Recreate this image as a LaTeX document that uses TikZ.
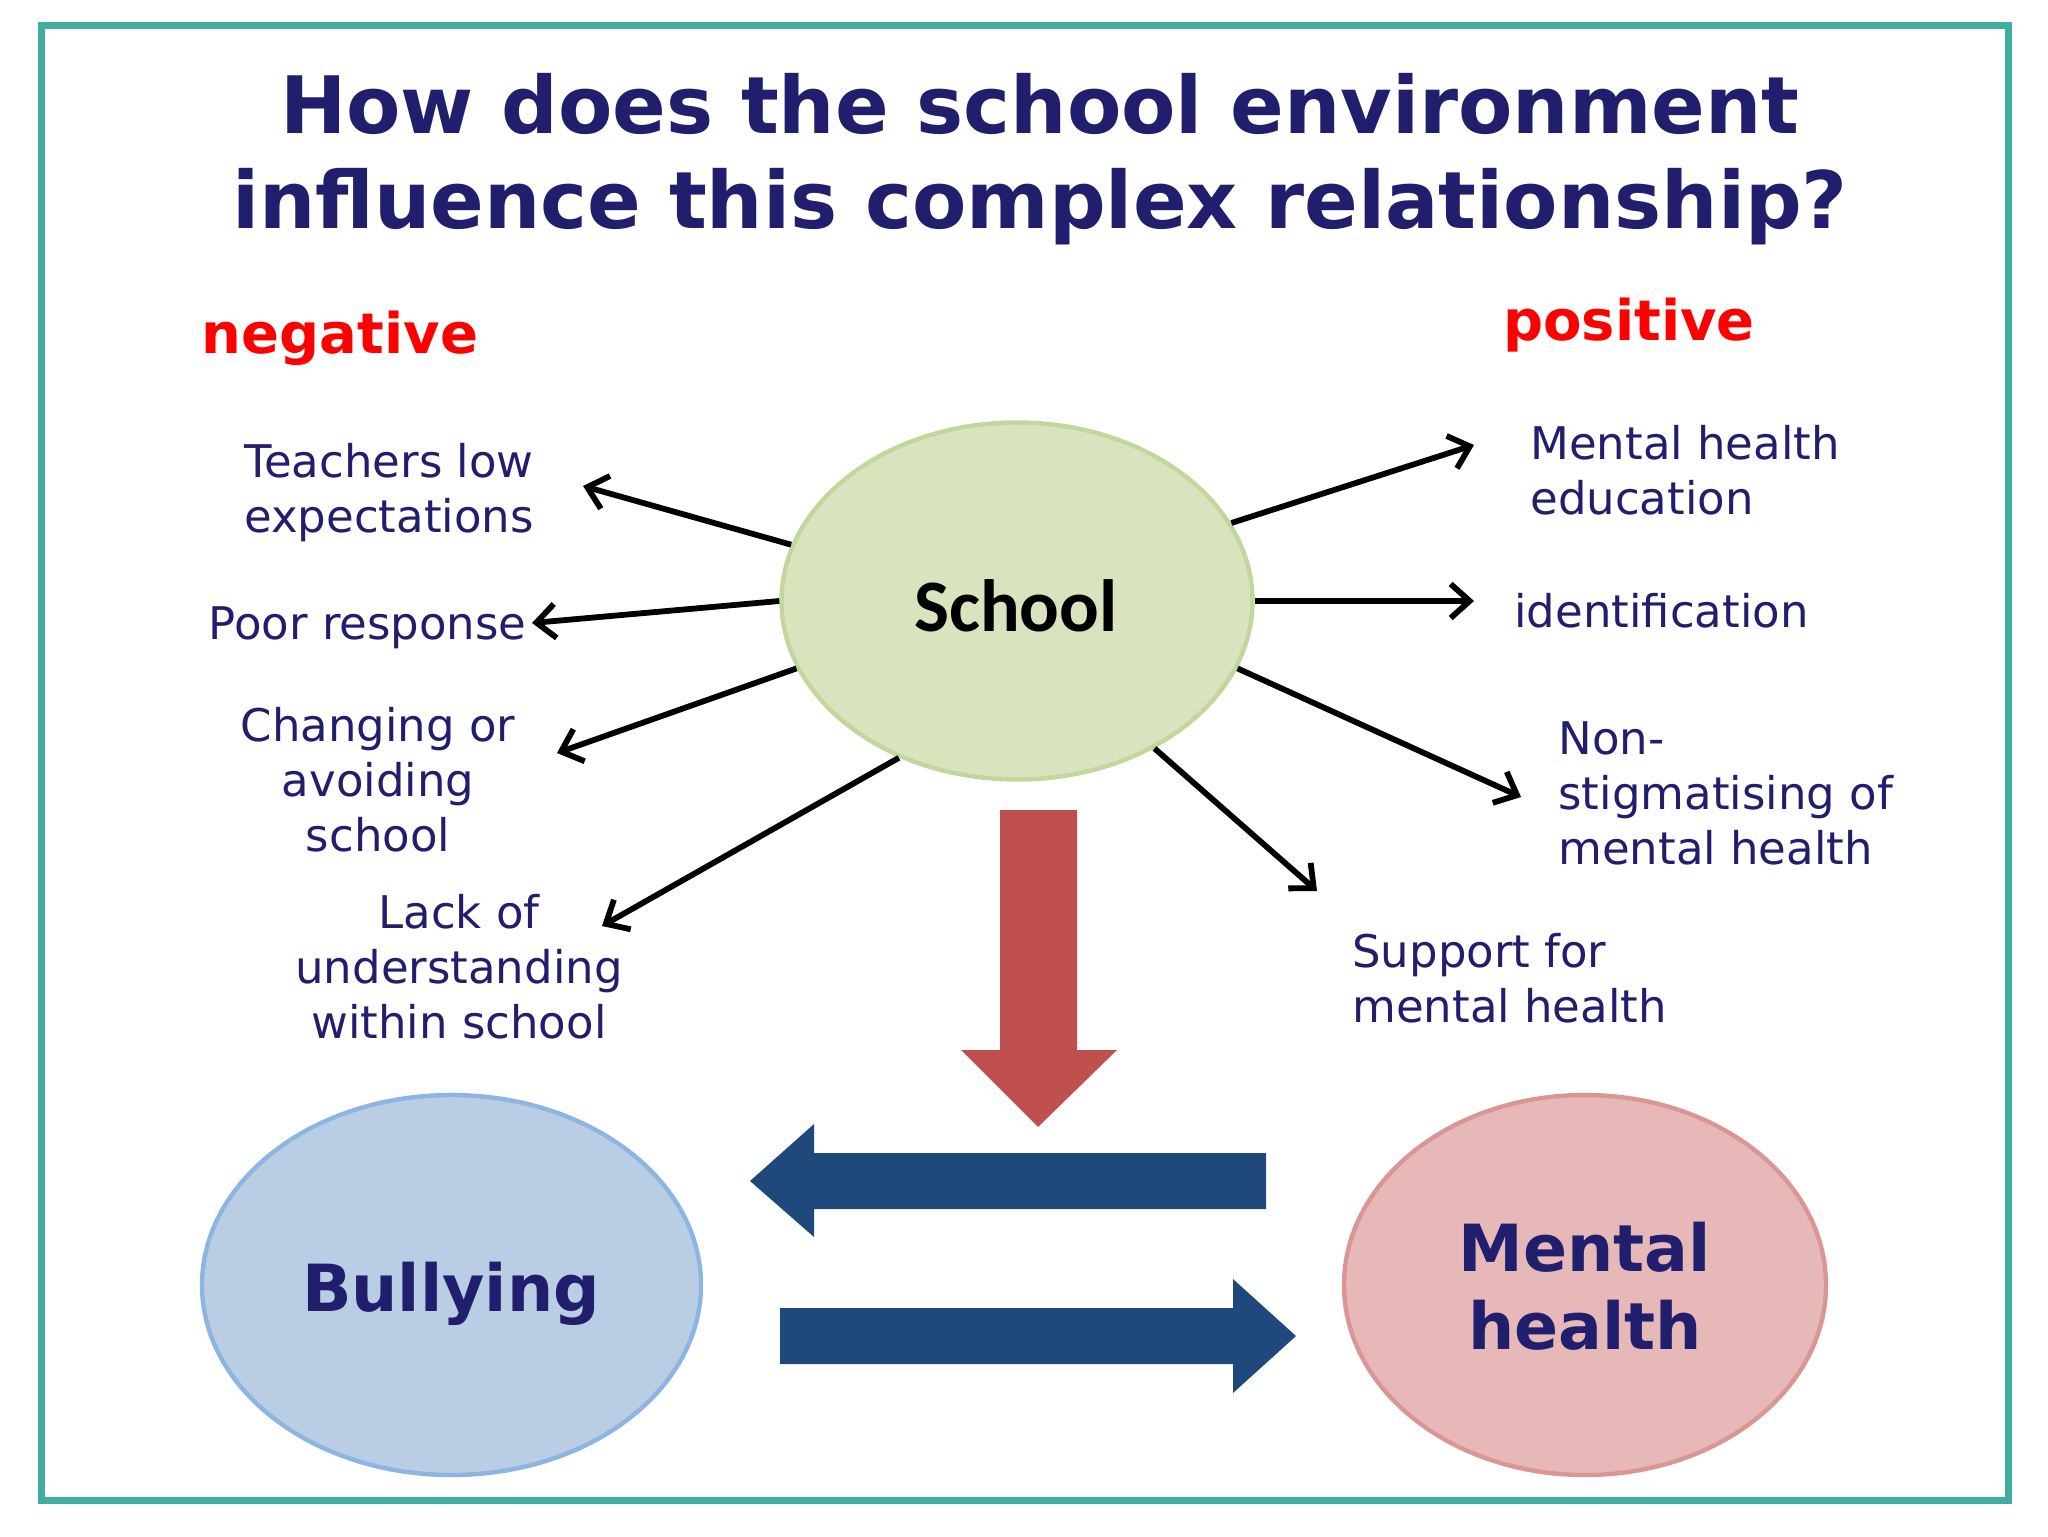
\documentclass[tikz,border=0pt]{standalone}
\usepackage{fontspec}
\setmainfont{DejaVu Sans}
\newfontfamily\carl{Carlito}
\usetikzlibrary{arrows.meta,shapes.geometric}
\definecolor{navy}{RGB}{33,30,110}
\definecolor{frameteal}{RGB}{64,173,158}
\definecolor{gfill}{RGB}{215,228,189}
\definecolor{gline}{RGB}{195,214,155}
\definecolor{bfill}{RGB}{185,205,229}
\definecolor{bline}{RGB}{142,180,226}
\definecolor{pfill}{RGB}{230,185,184}
\definecolor{pline}{RGB}{217,150,148}
\definecolor{redarrow}{RGB}{192,80,77}
\definecolor{bluearrow}{RGB}{31,73,125}
\begin{document}
\begin{tikzpicture}[x=0.5pt,y=-0.5pt,
  bubble/.style={ellipse, line width=2.2pt, inner sep=0pt},
  body/.style={text=navy, inner sep=0pt, font=\fontsize{22.5}{27.5}\selectfont},
  big/.style={text=navy, inner sep=0pt, font=\fontsize{32.5}{39}\selectfont\bfseries, align=center},
  conn/.style={line width=2.9pt, -{Straight Barb[length=9.5pt,width=17pt]}}]
\useasboundingbox (0,0) rectangle (2048,1536);
\draw[frameteal, line width=3.5pt] (41,26) rectangle (2008,1500);

% title
\node[text=navy, inner sep=0pt, anchor=base, align=center,
  font=\fontsize{39.6}{47.5}\selectfont\bfseries] (title) at (1040,228)
  {How does the school environment\\influence this complex relationship?};
\node[text=red, inner sep=0pt, anchor=base, font=\fontsize{28}{34}\selectfont\bfseries] (neg) at (340,353) {negative};
\node[text=red, inner sep=0pt, anchor=base, font=\fontsize{28}{34}\selectfont\bfseries] (pos) at (1629,340) {positive};

% ellipses
\node[bubble, draw=gline, fill=gfill, minimum width=235.5pt, minimum height=178.5pt] (school) at (1017,601) {};
\node[inner sep=0pt, anchor=base, font=\carl\fontsize{37}{44}\selectfont\bfseries] (schooltxt) at (1016,631) {School};
\node[bubble, draw=bline, fill=bfill, minimum width=249.5pt, minimum height=190pt] (bully) at (451.5,1285) {};
\node[bubble, draw=pline, fill=pfill, minimum width=241pt, minimum height=190pt] (mh) at (1585,1285) {};
\node[big, anchor=base] (bullytxt) at (451,1311) {Bullying};
\node[big, anchor=base] (mhtxt) at (1585,1349) {Mental\\health};

% block arrows
\fill[redarrow] (1000,810) -- (1077,810) -- (1077,1050) -- (1117,1050) -- (1038,1127) -- (961,1050) -- (1000,1050) -- cycle;
\fill[bluearrow] (750,1181) -- (814,1124) -- (814,1153) -- (1266,1153) -- (1266,1209) -- (814,1209) -- (814,1237) -- cycle;
\fill[bluearrow] (1296,1336) -- (1233,1279) -- (1233,1308) -- (780,1308) -- (780,1364) -- (1233,1364) -- (1233,1393) -- cycle;

% negative labels (base = last line)
\node[body, anchor=base, align=center] (teach) at (389,532) {Teachers low\\expectations};
\node[body, anchor=base east] (poor) at (527,639) {Poor response};
\node[body, anchor=base, align=center] (chg) at (378,851) {Changing or\\avoiding\\school};
\node[body, anchor=base, align=center] (lack) at (459,1038) {Lack of\\understanding\\within school};
% positive labels
\node[body, anchor=base west, align=left] (mhed) at (1530,514) {Mental health\\education};
\node[body, anchor=base west] (ident) at (1514,627) {identification};
\node[body, anchor=base west, align=left] (nonst) at (1558,864) {Non-\\stigmatising of\\mental health};
\node[body, anchor=base west, align=left] (supp) at (1352,1022) {Support for\\mental health};

% arrow ends
\coordinate (e1) at (583,486);
\coordinate (e2) at (532,623);
\coordinate (e3) at (557,753);
\coordinate (e4) at (602,926);
\coordinate (e5) at (1474,445);
\coordinate (e6) at (1474,601);
\coordinate (e7) at (1521,797);
\coordinate (e8) at (1317,891);

\draw[conn] (school.166.7) -- (e1);
\draw[conn] (school.180) -- (e2);
\draw[conn] (school.197.5) -- (e3);
\draw[conn] (school.233.7) -- (e4);
\draw[conn] (school.20.5) -- (e5);
\draw[conn] (school.0) -- (e6);
\draw[conn] (school.343) -- (e7);
\draw[conn] (school.313.3) -- (e8);
\end{tikzpicture}
\end{document}
